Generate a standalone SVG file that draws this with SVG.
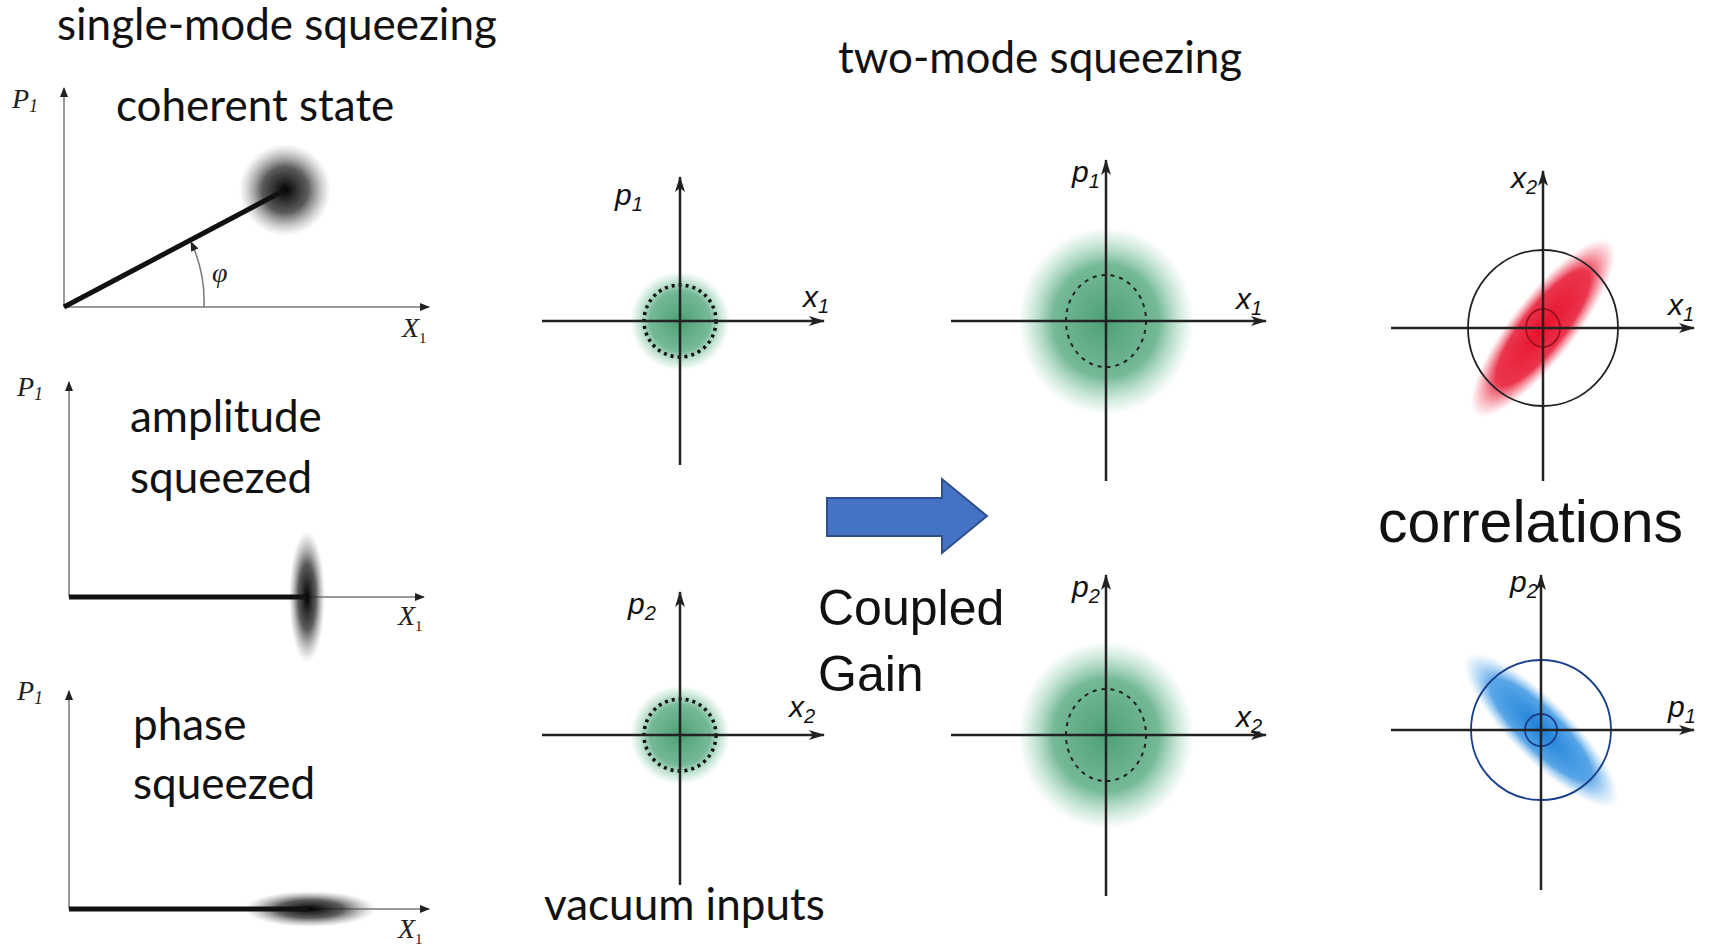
<svg xmlns="http://www.w3.org/2000/svg" width="1725" height="950" viewBox="0 0 1725 950">
<style>
.t{font-family:Lato,"Open Sans",sans-serif;font-size:44px;fill:#111}
.a{font-family:"Liberation Sans",Arial,sans-serif;fill:#111}
.ax{stroke:#222;stroke-width:2.5;fill:none}
.thin{stroke:#777;stroke-width:1.5;fill:none}
.tl{font-family:"Liberation Serif",serif;font-style:italic;font-size:28px;fill:#222}
.it{font-family:"Liberation Sans",Arial,sans-serif;font-style:italic;font-size:30px;fill:#111}
</style>
<defs>
<marker id="ah" markerWidth="10" markerHeight="8" refX="9" refY="4" orient="auto" markerUnits="userSpaceOnUse"><path d="M0,0L10,4L0,8z" fill="#222"/></marker>
<marker id="ahs" markerWidth="16" markerHeight="10" refX="15" refY="5" orient="auto" markerUnits="userSpaceOnUse"><path d="M0,0L16,5L0,10L4,5z" fill="#222"/></marker>
<radialGradient id="gk"><stop offset="0" stop-color="#000"/><stop offset="0.5" stop-color="#333" stop-opacity="0.8"/><stop offset="1" stop-color="#888" stop-opacity="0"/></radialGradient>
<radialGradient id="gg"><stop offset="0" stop-color="#2e8f5e" stop-opacity="0.85"/><stop offset="0.6" stop-color="#3a9b6a" stop-opacity="0.7"/><stop offset="1" stop-color="#6fc49a" stop-opacity="0"/></radialGradient>
<radialGradient id="gr"><stop offset="0" stop-color="#e8102a"/><stop offset="0.65" stop-color="#e8203a" stop-opacity="0.9"/><stop offset="1" stop-color="#f06070" stop-opacity="0"/></radialGradient>
<radialGradient id="gb"><stop offset="0" stop-color="#1a7fd8"/><stop offset="0.65" stop-color="#3b96e3" stop-opacity="0.85"/><stop offset="1" stop-color="#7fbdf0" stop-opacity="0"/></radialGradient>
</defs>
<rect width="1725" height="950" fill="#fff"/>
<text class="t" x="57" y="40">single-mode squeezing</text>
<text class="t" x="838" y="73">two-mode squeezing</text>

<g id="coherent">
<path class="thin" d="M64,307V88" marker-end="url(#ah)"/>
<path class="thin" d="M64,307H429" marker-end="url(#ah)"/>
<circle cx="285" cy="190" r="46" fill="url(#gk)"/>
<path d="M64,307L285,190" stroke="#111" stroke-width="5"/>
<path class="thin" d="M204,307A140,140 0 0 0 191,242" marker-end="url(#ah)"/>
<text class="tl" x="212" y="282" font-size="22">φ</text>
<text class="tl" x="12" y="108">P<tspan font-size="18" dy="4">1</tspan></text>
<text class="tl" x="402" y="337">X<tspan font-size="15" dy="6" font-style="normal">1</tspan></text>
<text class="t" x="116" y="121">coherent state</text>
</g>
<g id="amplitude">
<path class="thin" d="M69,597V382" marker-end="url(#ah)"/>
<path class="thin" d="M69,597H424" marker-end="url(#ah)"/>
<ellipse cx="307" cy="597" rx="18" ry="66" fill="url(#gk)"/>
<path d="M69,597H307" stroke="#111" stroke-width="5"/>
<text class="tl" x="17" y="396">P<tspan font-size="18" dy="4">1</tspan></text>
<text class="tl" x="398" y="625">X<tspan font-size="15" dy="6" font-style="normal">1</tspan></text>
<text class="t" x="130" y="432">amplitude</text>
<text class="t" x="130" y="493">squeezed</text>
</g>
<g id="phase">
<path class="thin" d="M69,909V691" marker-end="url(#ah)"/>
<path class="thin" d="M69,909H429" marker-end="url(#ah)"/>
<ellipse cx="310" cy="909" rx="66" ry="18" fill="url(#gk)"/>
<path d="M69,909H310" stroke="#111" stroke-width="5"/>
<text class="tl" x="17" y="700">P<tspan font-size="18" dy="4">1</tspan></text>
<text class="tl" x="398" y="938">X<tspan font-size="15" dy="6" font-style="normal">1</tspan></text>
<text class="t" x="133" y="740">phase</text>
<text class="t" x="133" y="799">squeezed</text>
</g>

<g id="vac1">
<circle cx="680" cy="321" r="50" fill="url(#gg)"/>
<circle cx="680" cy="321" r="36" fill="none" stroke="#111" stroke-width="3.5" stroke-dasharray="3,4"/>
<path class="ax" d="M542,321H824" marker-end="url(#ahs)"/>
<path class="ax" d="M680,465V177" marker-end="url(#ahs)"/>
<text class="it" x="615" y="205">p<tspan font-size="20" dy="6">1</tspan></text>
<text class="it" x="803" y="307">x<tspan font-size="20" dy="6">1</tspan></text>
</g>
<g id="vac2">
<circle cx="680" cy="735" r="50" fill="url(#gg)"/>
<circle cx="680" cy="735" r="36" fill="none" stroke="#111" stroke-width="3.5" stroke-dasharray="3,4"/>
<path class="ax" d="M542,735H824" marker-end="url(#ahs)"/>
<path class="ax" d="M680,885V592" marker-end="url(#ahs)"/>
<text class="it" x="628" y="614">p<tspan font-size="20" dy="6">2</tspan></text>
<text class="it" x="789" y="717">x<tspan font-size="20" dy="6">2</tspan></text>
</g>
<text class="t" x="544" y="920">vacuum inputs</text>

<g id="arrow">
<path d="M827,498H942V479L987,516L942,553V536H827z" fill="#4472c4" stroke="#2f4f8a" stroke-width="2"/>
</g>
<text class="a" x="818" y="625" font-size="50">Coupled</text>
<text class="a" x="818" y="691" font-size="50">Gain</text>

<g id="amp1">
<ellipse cx="1106" cy="321" rx="88" ry="94" fill="url(#gg)"/>
<ellipse cx="1106" cy="321" rx="40" ry="46" fill="none" stroke="#222" stroke-width="2" stroke-dasharray="4,5"/>
<path class="ax" d="M951,321H1266" marker-end="url(#ahs)"/>
<path class="ax" d="M1106,481V160" marker-end="url(#ahs)"/>
<text class="it" x="1072" y="182">p<tspan font-size="20" dy="6">1</tspan></text>
<text class="it" x="1236" y="309">x<tspan font-size="20" dy="6">1</tspan></text>
</g>
<g id="amp2">
<ellipse cx="1106" cy="735" rx="88" ry="94" fill="url(#gg)"/>
<ellipse cx="1106" cy="735" rx="40" ry="46" fill="none" stroke="#222" stroke-width="2" stroke-dasharray="4,5"/>
<path class="ax" d="M951,735H1266" marker-end="url(#ahs)"/>
<path class="ax" d="M1106,896V575" marker-end="url(#ahs)"/>
<text class="it" x="1072" y="597">p<tspan font-size="20" dy="6">2</tspan></text>
<text class="it" x="1236" y="727">x<tspan font-size="20" dy="6">2</tspan></text>
</g>

<g id="corrX">
<ellipse cx="1543" cy="328" rx="110" ry="32" transform="rotate(-52 1543 328)" fill="url(#gr)"/>
<ellipse cx="1543" cy="328" rx="75" ry="78" fill="none" stroke="#222" stroke-width="1.8"/>
<ellipse cx="1543" cy="328" rx="17" ry="19" fill="none" stroke="#a01020" stroke-width="1.8"/>
<path class="ax" d="M1391,328H1694" marker-end="url(#ahs)"/>
<path class="ax" d="M1543,481V171" marker-end="url(#ahs)"/>
<text class="it" x="1511" y="188">x<tspan font-size="20" dy="6">2</tspan></text>
<text class="it" x="1668" y="315">x<tspan font-size="20" dy="6">1</tspan></text>
</g>
<text class="a" x="1378" y="542" font-size="59">correlations</text>
<g id="corrP">
<ellipse cx="1541" cy="730" rx="105" ry="30" transform="rotate(45 1541 730)" fill="url(#gb)"/>
<circle cx="1541" cy="730" r="70" fill="none" stroke="#1a3f8a" stroke-width="1.8"/>
<circle cx="1541" cy="730" r="16" fill="none" stroke="#1a3f8a" stroke-width="1.8"/>
<path class="ax" d="M1391,730H1694" marker-end="url(#ahs)"/>
<path class="ax" d="M1541,890V575" marker-end="url(#ahs)"/>
<text class="it" x="1510" y="592">p<tspan font-size="20" dy="6">2</tspan></text>
<text class="it" x="1668" y="717">p<tspan font-size="20" dy="6">1</tspan></text>
</g>
</svg>
